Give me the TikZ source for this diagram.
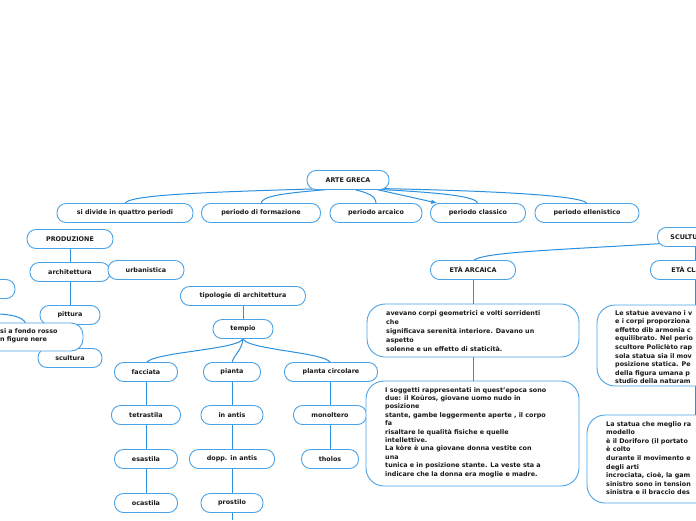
\documentclass[tikz,border=0pt]{standalone}
\usepackage{fontspec}
\setmainfont{DejaVu Sans}
\definecolor{bord}{HTML}{4AA3E6}
\definecolor{conn}{HTML}{2B90DE}
\begin{document}
\begin{tikzpicture}[x=1pt,y=-1pt,
 box/.style={draw=bord,line width=0.9pt,rounded corners=9pt,fill=white,font=\bfseries\fontsize{6.4}{7.4}\selectfont,inner sep=0pt,minimum height=19pt,text=black!90},
 tbox/.style={draw=bord,line width=0.9pt,rounded corners=18pt,fill=white},
 tx/.style={font=\bfseries\fontsize{6.4}{8.6}\selectfont,align=left,anchor=north west,inner sep=0pt,text=black!90},
 ln/.style={draw=conn,line width=1pt}]
\useasboundingbox (0,0) rectangle (696,520);
\clip (0,0) rectangle (696,520);
% connectors (drawn first)
\coordinate (ag) at (348,188);
\draw[ln] (ag) .. controls (200,192) and (125,195) .. (125,204);
\draw[ln] (ag) .. controls (280,193) and (261,196) .. (261,204);
\draw[ln] (ag) .. controls (370,193) and (376,196) .. (376,204);
\draw[ln] (ag) .. controls (440,192) and (478,196) .. (478,204);
\draw[ln] (ag) .. controls (480,190) and (587,195) .. (587,204);
\draw[ln,-latex] (370,188) -- (437,203);
\draw[ln] (70,239) -- (70,358);
\draw[ln] (243,296) -- (243,329);
\draw[ln] (243,338) .. controls (243,350) and (146,352) .. (146,364);
\draw[ln] (243,338) .. controls (243,350) and (232,356) .. (232,364);
\draw[ln] (243,338) .. controls (243,350) and (331,352) .. (331,364);
\draw[ln] (146,372) -- (146,503);
\draw[ln] (232,372) -- (232,520);
\draw[ln] (330,372) -- (330,459);
\draw[ln] (670,243) .. controls (560,250) and (473,252) .. (473,262);
\draw[ln] (695,237) -- (695,500);
\draw[ln] (473,270) -- (473,430);
\draw[ln] (0,314) .. controls (15,315) and (26,318) .. (26,326);
% nodes
\node[box,minimum width=82pt] (arte) at (348,180) {ARTE GRECA};
\node[box,minimum width=136pt] (p0) at (125,213) {si divide in quattro periodi};
\node[box,minimum width=119pt] (p1) at (261,213) {periodo di formazione};
\node[box,minimum width=92pt] (p2) at (376,213) {periodo arcaico};
\node[box,minimum width=95pt] (p3) at (478,213) {periodo classico};
\node[box,minimum width=104pt] (p4) at (587,213) {periodo ellenistico};
\node[box,minimum width=86pt] (prod) at (70,239) {PRODUZIONE};
\node[box,minimum width=80pt] (arch) at (70,272) {architettura};
\node[box,minimum width=76pt] (urb) at (146,270) {urbanistica};
\node[box,minimum width=40pt] (lp) at (-5,289) {};
\node[box,minimum width=60pt] (pitt) at (70,315) {pittura};
\node[box,minimum width=64pt] (scul) at (70,358) {scultura};
\node[box,minimum width=110pt,minimum height=28pt,rounded corners=12pt] (vasi) at (28,337) {};
\node[tx] at (0,328) {si a fondo rosso\\n figure nere};
\node[box,minimum width=125pt] (tip) at (243,296) {tipologie di architettura};
\node[box,minimum width=60pt] (temp) at (243,329) {tempio};
\node[box,minimum width=63pt] (fac) at (146,372) {facciata};
\node[box,minimum width=57pt] (pia) at (232,372) {pianta};
\node[box,minimum width=93pt] (pc) at (331,372) {planta circolare};
\node[box,minimum width=69pt] (tet) at (146,415) {tetrastila};
\node[box,minimum width=62pt] (ina) at (232,415) {in antis};
\node[box,minimum width=73pt] (mon) at (330,415) {monoltero};
\node[box,minimum width=63pt] (esa) at (146,459) {esastila};
\node[box,minimum width=85pt] (dop) at (232,459) {dopp. in antis};
\node[box,minimum width=57pt] (tho) at (330,459) {tholos};
\node[box,minimum width=63pt] (oca) at (146,503) {ocastila};
\node[box,minimum width=62pt] (pro) at (232,503) {prostilo};
\node[box,minimum width=85pt] (arc) at (473,270) {ETÀ ARCAICA};
\node[box,minimum width=90pt,anchor=west,text width=80pt,align=left] (scu) at (657,237) {\hspace*{8pt}SCULTURA};
\node[box,minimum width=90pt,anchor=west,text width=80pt,align=left] (cla) at (650,270) {\hspace*{16pt}ETÀ CLASSICA};
\draw[tbox] (367,304) rectangle (579,357);
\node[tx,font=\bfseries\fontsize{6.4}{9.2}\selectfont] at (386,310) {avevano corpi geometrici e volti sorridenti\\che\\significava serenità interiore. Davano un\\aspetto\\solenne e un effetto di staticità.};
\draw[tbox] (366,381) rectangle (579,486);
\node[tx,font=\bfseries\fontsize{6.4}{8.4}\selectfont] at (385,387) {I soggetti rappresentati in quest'epoca sono\\due: il Koùros, giovane uomo nudo in\\posizione\\stante, gambe leggermente aperte , il corpo\\fa\\risaltare le qualità fisiche e quelle\\intellettive.\\La kòre è una giovane donna vestite con\\una\\tunica e in posizione stante. La veste sta a\\indicare che la donna era moglie e madre.};
\draw[tbox] (597,305) rectangle (760,386);
\node[tx] at (615,310) {Le statue avevano i v\\e i corpi proporziona\\effetto dib armonia c\\equilibrato. Nel perio\\scultore Policlèto rap\\sola statua sia il mov\\posizione statica. Pe\\della figura umana p\\studio della naturam};
\draw[tbox] (587,415) rectangle (760,503);
\node[tx] at (606,421) {La statua che meglio ra\\modello\\è il Doriforo (il portato\\è colto\\durante il movimento e\\degli arti\\incrociata, cioè, la gam\\sinistro sono in tension\\sinistra e il braccio des};
\end{tikzpicture}
\end{document}
